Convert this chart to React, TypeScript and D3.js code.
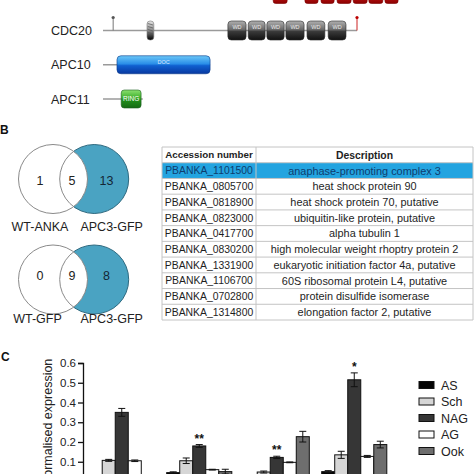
import React, { useEffect, useRef } from 'react';
import * as d3 from 'd3';

// ---------- Panel A: protein domain data (residue-like units) ----------
const proteinNames = ['CDC20', 'APC10', 'APC11'];
const proteinLengths = [600, 253, 94];
const wdStarts = [295, 343, 387, 432, 482, 532];
const wdEnds = [338, 383, 428, 475, 524, 574];
const docDomain = [33, 253];
const ringDomain = [43, 90];
const cdc20Pin = 24;
const cdc20Coil = [104, 120];
const topRedStarts = [402, 477, 515, 553, 591, 628, 666];
const topRedEnds = [435, 508, 546, 586, 624, 661, 697];

// ---------- Panel B: Venn + table ----------
const vennLeftLabels = ['WT-ANKA', 'WT-GFP'];
const vennRightLabels = ['APC3-GFP', 'APC3-GFP'];
const vennLeftOnly = [1, 0];
const vennShared = [5, 9];
const vennRightOnly = [13, 8];

const tableHeader = ['Accession number', 'Description'];
const accessions = [
  'PBANKA_1101500', 'PBANKA_0805700', 'PBANKA_0818900', 'PBANKA_0823000', 'PBANKA_0417700',
  'PBANKA_0830200', 'PBANKA_1331900', 'PBANKA_1106700', 'PBANKA_0702800', 'PBANKA_1314800',
];
const descriptions = [
  'anaphase-promoting complex  3', 'heat shock protein 90', 'heat shock protein 70, putative',
  'ubiquitin-like protein, putative', 'alpha tubulin 1', 'high molecular weight rhoptry protein 2',
  'eukaryotic initiation factor 4a, putative', '60S ribosomal protein L4, putative',
  'protein disulfide isomerase', 'elongation factor 2, putative',
];

// ---------- Panel C: bar chart ----------
const groups = ['G1', 'G2', 'G3', 'G4'];
const seriesNames = ['AS', 'Sch', 'NAG', 'AG', 'Ook'];
const asValues = [0.02, 0.045, 0.02, 0.05];
const schValues = [0.107, 0.105, 0.048, 0.135];
const nagValues = [0.35, 0.18, 0.122, 0.515];
const agValues = [0.105, 0.06, 0.097, 0.127];
const ookValues = [0.02, 0.05, 0.227, 0.187];
const asErr = [0.003, 0.004, 0.003, 0.005];
const schErr = [0.005, 0.014, 0.005, 0.018];
const nagErr = [0.02, 0.007, 0.006, 0.035];
const agErr = [0.004, 0.002, 0.002, 0.005];
const ookErr = [0.003, 0.012, 0.027, 0.017];
const stars = ['', '**', '**', '*'];
const yTicks = [0, 0.1, 0.2, 0.3, 0.4, 0.5, 0.6];
const seriesColors = ['#050505', '#d6d6d6', '#363636', '#ffffff', '#6e6e6e'];

const FONT = 'Liberation Sans, Arial, sans-serif';

export default function App() {
  const axisRef = useRef<SVGGElement | null>(null);

  // scales
  const xRes = d3.scaleLinear().domain([0, 600]).range([103, 357]);
  const rowY = d3.scalePoint<string>().domain(proteinNames).range([30.5, 99]);

  const y = d3.scaleLinear().domain([0, 0.6]).range([481.5, 363]);
  const x0 = d3.scaleBand<string>().domain(groups).range([83, 393]).paddingInner(0.16).paddingOuter(0.08);
  const x1 = d3.scaleBand<string>().domain(seriesNames).range([0, x0.bandwidth()]);
  const seriesValues = [asValues, schValues, nagValues, agValues, ookValues];
  const seriesErr = [asErr, schErr, nagErr, agErr, ookErr];
  const legendY = d3.scalePoint<string>().domain(seriesNames).range([385, 451]);

  const tableRows = d3.range(accessions.length + 1);
  const rowTop = d3.scaleLinear().domain([0, accessions.length + 1]).range([147, 320]);
  const colX = [162, 256, 473];

  const vennCy = [179, 279.5];
  const vennNumY = [180, 275];
  const vennLabelY = [226, 318];
  const cxL = 53, cxR = 94.2, rV = 34.5;

  useEffect(() => {
    if (!axisRef.current) return;
    const g = d3.select(axisRef.current);
    g.selectAll('*').remove();
    g.call(
      d3.axisLeft(y).tickValues(yTicks).tickSize(5).tickPadding(2).tickFormat(d3.format('.1f'))
    );
    g.select('.domain').attr('stroke', '#111').attr('stroke-width', 1.3);
    g.selectAll('.tick line').attr('stroke', '#111').attr('stroke-width', 1.3);
    g.selectAll('.tick text').attr('font-family', FONT).attr('font-size', 11.5).attr('fill', '#222');
  }, []);

  const cdcY = rowY('CDC20')!;
  const apc10Y = rowY('APC10')!;
  const apc11Y = rowY('APC11')!;

  return (
    <svg width={474} height={474} style={{ position: 'fixed', left: 0, top: 0, background: '#fff' }}
      fontFamily={FONT}>
      <defs>
        <linearGradient id="gWD" x1="0" y1="0" x2="0" y2="1">
          <stop offset="0" stopColor="#b0b0b0" />
          <stop offset="0.45" stopColor="#6a6a6a" />
          <stop offset="0.55" stopColor="#3a3a3a" />
          <stop offset="1" stopColor="#111" />
        </linearGradient>
        <linearGradient id="gDOC" x1="0" y1="0" x2="0" y2="1">
          <stop offset="0" stopColor="#6cc8f8" />
          <stop offset="0.45" stopColor="#2a8ee8" />
          <stop offset="0.55" stopColor="#1060d0" />
          <stop offset="1" stopColor="#0838a0" />
        </linearGradient>
        <linearGradient id="gRING" x1="0" y1="0" x2="0" y2="1">
          <stop offset="0" stopColor="#8be070" />
          <stop offset="0.45" stopColor="#3cae2a" />
          <stop offset="0.55" stopColor="#22901c" />
          <stop offset="1" stopColor="#156a14" />
        </linearGradient>
        <linearGradient id="gRED" x1="0" y1="0" x2="0" y2="1">
          <stop offset="0" stopColor="#e02020" />
          <stop offset="1" stopColor="#8a0000" />
        </linearGradient>
        <linearGradient id="gCoil" x1="0" y1="0" x2="0" y2="1">
          <stop offset="0" stopColor="#e8e8e8" />
          <stop offset="0.5" stopColor="#888" />
          <stop offset="1" stopColor="#000" />
        </linearGradient>
        {vennCy.map((cy, i) => (
          <clipPath id={`clipL${i}`} key={i}>
            <circle cx={cxL} cy={cy} r={rV} />
          </clipPath>
        ))}
      </defs>

      {/* ---------- Panel A ---------- */}
      {topRedStarts.map((s, i) => (
        <rect key={`red${i}`} x={xRes(s)} y={-8} width={xRes(topRedEnds[i]) - xRes(s)} height={11.5}
          rx={2.5} fill="url(#gRED)" stroke="#7a0000" strokeWidth={0.6} />
      ))}

      {proteinNames.map((n) => (
        <text key={n} x={51} y={rowY(n)!} dy="0.36em" fontSize={12.5} fill="#222">{n}</text>
      ))}

      {/* CDC20 */}
      <line x1={xRes(0)} x2={xRes(proteinLengths[0])} y1={cdcY} y2={cdcY} stroke="#9a9a9a" strokeWidth={1.5} />
      <line x1={xRes(cdc20Pin)} x2={xRes(cdc20Pin)} y1={cdcY} y2={cdcY - 13} stroke="#777" strokeWidth={1} />
      <circle cx={xRes(cdc20Pin)} cy={cdcY - 13} r={1.6} fill="#555" />
      <rect x={xRes(cdc20Coil[0])} y={cdcY - 9.5} width={xRes(cdc20Coil[1]) - xRes(cdc20Coil[0])} height={19}
        rx={3} fill="url(#gCoil)" stroke="#777" strokeWidth={0.6} />
      {[0, 1, 2, 3].map((k) => (
        <line key={`coil${k}`} x1={xRes(cdc20Coil[0]) + 0.8} x2={xRes(cdc20Coil[1]) - 0.8}
          y1={cdcY - 7 + k * 3} y2={cdcY - 5.5 + k * 3} stroke="#555" strokeWidth={0.7} />
      ))}
      {wdStarts.map((s, i) => {
        const x = xRes(s), w = xRes(wdEnds[i]) - xRes(s);
        return (
          <g key={`wd${i}`}>
            <rect x={x} y={cdcY - 9.5} width={w} height={19} rx={3.5} fill="url(#gWD)" stroke="#2a2a2a" strokeWidth={0.6} />
            <text x={x + w / 2} y={cdcY - 1.5} textAnchor="middle" fontSize={5.5} fill="#e8e8e8">WD</text>
          </g>
        );
      })}
      <line x1={xRes(proteinLengths[0])} x2={xRes(proteinLengths[0])} y1={cdcY} y2={cdcY - 13} stroke="#c22" strokeWidth={1} />
      <circle cx={xRes(proteinLengths[0])} cy={cdcY - 13} r={1.6} fill="#b00" />

      {/* APC10 */}
      <line x1={xRes(0)} x2={xRes(proteinLengths[1])} y1={apc10Y} y2={apc10Y} stroke="#9a9a9a" strokeWidth={1.5} />
      <rect x={xRes(docDomain[0])} y={apc10Y - 9} width={xRes(docDomain[1]) - xRes(docDomain[0])} height={18}
        rx={4} fill="url(#gDOC)" stroke="#0a3a8a" strokeWidth={0.6} />
      <text x={(xRes(docDomain[0]) + xRes(docDomain[1])) / 2} y={apc10Y - 1} textAnchor="middle" fontSize={5.5} fill="#dde8ff">DOC</text>

      {/* APC11 */}
      <line x1={xRes(0)} x2={xRes(proteinLengths[2])} y1={apc11Y} y2={apc11Y} stroke="#9a9a9a" strokeWidth={1.5} />
      <rect x={xRes(ringDomain[0])} y={apc11Y - 9} width={xRes(ringDomain[1]) - xRes(ringDomain[0])} height={18}
        rx={3} fill="url(#gRING)" stroke="#1b5e20" strokeWidth={0.6} />
      <text x={(xRes(ringDomain[0]) + xRes(ringDomain[1])) / 2} y={apc11Y + 2} textAnchor="middle" fontSize={6.5} fill="#fff">RING</text>

      {/* ---------- Panel B ---------- */}
      <text x={0} y={134} fontSize={12} fontWeight="bold" fill="#111">B</text>
      {vennCy.map((cy, i) => (
        <g key={`venn${i}`}>
          <circle cx={cxR} cy={cy} r={rV} fill="#4aa3c2" stroke="#2f6a80" strokeWidth={1} />
          <circle cx={cxL} cy={cy} r={rV} fill="#fff" stroke="#8a8a8a" strokeWidth={1} />
          <circle cx={cxR} cy={cy} r={rV} fill="none" stroke="#8a8a8a" strokeWidth={1} clipPath={`url(#clipL${i})`} />
          <text x={40} y={vennNumY[i]} dy="0.36em" textAnchor="middle" fontSize={12.5} fill="#222">{vennLeftOnly[i]}</text>
          <text x={72} y={vennNumY[i]} dy="0.36em" textAnchor="middle" fontSize={12.5} fill="#222">{vennShared[i]}</text>
          <text x={106.5} y={vennNumY[i]} dy="0.36em" textAnchor="middle" fontSize={12.5} fill="#142634">{vennRightOnly[i]}</text>
          <text x={i === 0 ? 40 : 37.5} y={vennLabelY[i]} dy="0.36em" textAnchor="middle" fontSize={12.5} fill="#222">{vennLeftLabels[i]}</text>
          <text x={111.7} y={vennLabelY[i]} dy="0.36em" textAnchor="middle" fontSize={12.5} fill="#222">{vennRightLabels[i]}</text>
        </g>
      ))}

      {/* table */}
      {tableRows.map((r) => {
        const top = rowTop(r), h = rowTop(r + 1) - rowTop(r);
        const isHeader = r === 0;
        const hl = r === 1;
        const a = isHeader ? tableHeader[0] : accessions[r - 1];
        const d = isHeader ? tableHeader[1] : descriptions[r - 1];
        const fill = hl ? '#0f3d6e' : '#1e1e1e';
        return (
          <g key={`row${r}`}>
            {hl && <rect x={colX[0]} y={top} width={colX[2] - colX[0]} height={h} fill="#23a4e0" />}
            <text x={(colX[0] + colX[1]) / 2} y={top + h / 2} dy="0.36em" textAnchor="middle"
              fontSize={isHeader ? 9.8 : 10.4} fontWeight={isHeader ? 'bold' : 'normal'} fill={fill}>{a}</text>
            <text x={(colX[1] + colX[2]) / 2} y={top + h / 2} dy="0.36em" textAnchor="middle"
              fontSize={isHeader ? 10.4 : 10.9} fontWeight={isHeader ? 'bold' : 'normal'} fill={fill}>{d}</text>
          </g>
        );
      })}
      {d3.range(accessions.length + 2).map((r) => (
        <line key={`hl${r}`} x1={colX[0]} x2={colX[2]} y1={rowTop(r)} y2={rowTop(r)} stroke="#c4c4c4" strokeWidth={1} />
      ))}
      {colX.map((cx, i) => (
        <line key={`vl${i}`} x1={cx} x2={cx} y1={rowTop(0)} y2={rowTop(accessions.length + 1)} stroke="#c4c4c4" strokeWidth={1} />
      ))}

      {/* ---------- Panel C ---------- */}
      <text x={1} y={361} fontSize={12} fontWeight="bold" fill="#111">C</text>
      <text transform={`translate(52, ${(y(0) + y(0.6)) / 2}) rotate(-90)`} textAnchor="middle" fontSize={12.5} fill="#222">
        Normalised expression
      </text>

      {groups.map((g, gi) => (
        <g key={g} transform={`translate(${x0(g)},0)`}>
          {seriesNames.map((s, si) => {
            const v = seriesValues[si][gi];
            const e = seriesErr[si][gi];
            const bx = x1(s)!;
            const bw = x1.bandwidth();
            const cx = bx + bw / 2;
            return (
              <g key={s}>
                <rect x={bx} y={y(v)} width={bw} height={y(0) - y(v)} fill={seriesColors[si]} stroke="#111" strokeWidth={1} />
                <line x1={cx} x2={cx} y1={y(v - e)} y2={y(v + e)} stroke="#111" strokeWidth={1} />
                <line x1={cx - 3.5} x2={cx + 3.5} y1={y(v + e)} y2={y(v + e)} stroke="#111" strokeWidth={1} />
                <line x1={cx - 3.5} x2={cx + 3.5} y1={y(v - e)} y2={y(v - e)} stroke="#111" strokeWidth={1} />
              </g>
            );
          })}
          {stars[gi] && (
            <text x={x1('NAG')! + x1.bandwidth() / 2} y={y(nagValues[gi] + nagErr[gi]) - 2}
              textAnchor="middle" fontSize={12} fontWeight="bold" fill="#111">{stars[gi]}</text>
          )}
        </g>
      ))}
      <g ref={axisRef} transform="translate(83,0)" />

      {seriesNames.map((s, i) => (
        <g key={`leg${s}`} transform={`translate(0,${legendY(s)})`}>
          <rect x={419} y={-3.5} width={15} height={7} fill={seriesColors[i]} stroke="#111" strokeWidth={1} />
          <text x={441} y={0} dy="0.36em" fontSize={12.5} fill="#222">{s}</text>
        </g>
      ))}
    </svg>
  );
}
